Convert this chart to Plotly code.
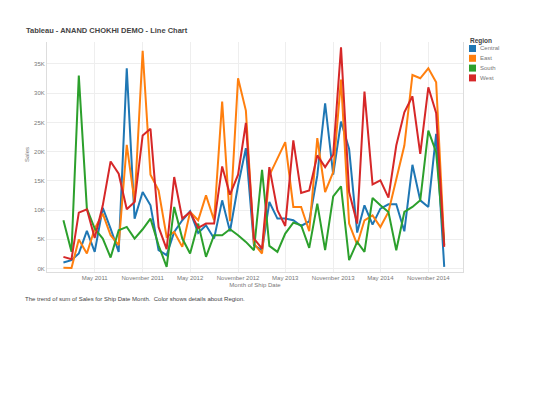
import pandas as pd
import plotly.graph_objects as go

months = pd.date_range("2011-01-01", periods=49, freq="MS")

central = [1020, 1420, 2560, 6430, 2850, 10360, 6830, 2850, 34250, 8540,
           13090, 10810, 3130, 2280, 6260, 8250, 9790, 6090, 7400, 5120,
           11660, 6370, 14200, 20600, 3980, 3130, 11380, 8540, 8540, 8250,
           7280, 8080, 15930, 28280, 16050, 25150, 20480, 6150, 10810, 7510,
           10240, 10980, 10980, 6370, 17750, 11660, 10530, 23040, 280]
east = [110, 100, 4950, 2560, 6830, 9390, 5690, 3980, 21170, 11380,
        37270, 16050, 13370, 5400, 6260, 3700, 9670, 8250, 12520, 8250,
        28560, 8080, 32550, 27030, 4270, 2560, 15930, 18780, 21620, 10530,
        10530, 6370, 22300, 13090, 16500, 32320, 7680, 4100, 8250, 9100,
        7110, 9670, 15360, 21050, 33120, 32550, 34250, 31860, 4100]
south = [8250, 2850, 33000, 10240, 6830, 5120, 1880, 6540, 7110, 5120,
         6710, 8540, 3980, 280, 10530, 5120, 2560, 7680, 1990, 5690,
         5690, 6710, 5690, 4550, 3130, 16900, 3870, 2850, 5970, 7850,
         7400, 3530, 11100, 3130, 12350, 14050, 1420, 4550, 2850, 12060,
         10810, 9670, 3130, 9670, 10530, 11660, 23600, 19900, 3980]
west = [1990, 1590, 9560, 10130, 5230, 10810, 18320, 16220, 10130, 11380,
        22760, 23900, 7110, 3300, 15650, 8540, 9670, 6940, 7680, 7680,
        17470, 12630, 16050, 24920, 5120, 3410, 17350, 9960, 7280, 21910,
        12920, 13370, 19350, 17350, 19460, 37840, 13090, 7680, 30270, 14400,
        15080, 12120, 21050, 26740, 29470, 19630, 31010, 26630, 3700]

regions = ["Central", "East", "South", "West"]
series = [central, east, south, west]
colors = ["#1f77b4", "#ff7f0e", "#2ca02c", "#d62728"]

tick_dates = ["2011-05-01", "2011-11-01", "2012-05-01", "2012-11-01",
              "2013-05-01", "2013-11-01", "2014-05-01", "2014-11-01"]
tick_text = ["May 2011", "November 2011", "May 2012", "November 2012",
             "May 2013", "November 2013", "May 2014", "November 2014"]
y_ticks = [0, 5000, 10000, 15000, 20000, 25000, 30000, 35000]
y_text = ["0K", "5K", "10K", "15K", "20K", "25K", "30K", "35K"]

FONT = "Liberation Sans"
GRAY = "#777777"
OFF = 8  # page body margin
W, H = 560 - OFF, 396 - OFF
X0, X1, Y0, Y1 = 47, 463, 42, 272  # plot area in page pixels
PW, PH = X1 - X0, Y1 - Y0


def px(x):
    return (x - X0) / PW


def py(y):
    return 1 - (y - Y0) / PH


fig = go.Figure()
for name, vals, col in zip(regions, series, colors):
    fig.add_trace(go.Scatter(x=months, y=vals, mode="lines", name=name,
                             line=dict(color=col, width=2),
                             showlegend=False))

fig.update_layout(
    width=W, height=H,
    margin=dict(l=X0 - OFF, r=W - (X1 - OFF), t=Y0 - OFF, b=H - (Y1 - OFF),
                autoexpand=False),
    paper_bgcolor="white", plot_bgcolor="white",
    font=dict(family=FONT, color=GRAY, size=6),
    xaxis=dict(range=["2010-10-30", "2015-03-14"], tickvals=tick_dates,
               ticktext=tick_text, showgrid=True, gridcolor="#eeeeee",
               gridwidth=1, zeroline=False, showline=True,
               linecolor="#dddddd", linewidth=1, ticks="", automargin=False,
               tickfont=dict(size=6, color=GRAY),
               title=dict(text="Month of Ship Date", font=dict(size=6, color=GRAY),
                          standoff=2)),
    yaxis=dict(range=[-600, 38760], tickvals=y_ticks, ticktext=y_text,
               showgrid=True, gridcolor="#eeeeee", gridwidth=1,
               zeroline=False, showline=True, linecolor="#dddddd",
               linewidth=1, mirror=True, ticks="", automargin=False,
               tickfont=dict(size=6, color=GRAY)),
)

# y axis title
fig.add_annotation(text="Sales", xref="paper", yref="paper",
                   x=px(27), y=py(155), textangle=-90, showarrow=False,
                   xanchor="center", yanchor="middle",
                   font=dict(family=FONT, size=6, color=GRAY))
# title
fig.add_annotation(text="<b>Tableau - ANAND CHOKHI DEMO - Line Chart</b>",
                   xref="paper", yref="paper", x=px(24), y=py(30),
                   xanchor="left", yanchor="middle", showarrow=False,
                   font=dict(family=FONT, size=7.5, color="#444444"))
# caption
fig.add_annotation(text="The trend of sum of Sales for Ship Date Month.  Color shows details about Region.",
                   xref="paper", yref="paper", x=px(23), y=py(299),
                   xanchor="left", yanchor="middle", showarrow=False,
                   font=dict(family=FONT, size=6, color="#444444"))

# legend (manual)
fig.add_annotation(text="<b>Region</b>", xref="paper", yref="paper",
                   x=px(468), y=py(41), xanchor="left", yanchor="middle",
                   showarrow=False, font=dict(family=FONT, size=6.5, color="#444444"))
for k, (name, col) in enumerate(zip(regions, colors)):
    yc = 48.5 + k * 9.8
    fig.add_shape(type="rect", xref="paper", yref="paper",
                  x0=px(469), x1=px(476), y0=py(yc + 3.5), y1=py(yc - 3.5),
                  fillcolor=col, line=dict(width=0))
    fig.add_annotation(text=name, xref="paper", yref="paper",
                       x=px(478), y=py(yc), xanchor="left", yanchor="middle",
                       showarrow=False, font=dict(family=FONT, size=6, color=GRAY))

fig.write_html("out.html")
